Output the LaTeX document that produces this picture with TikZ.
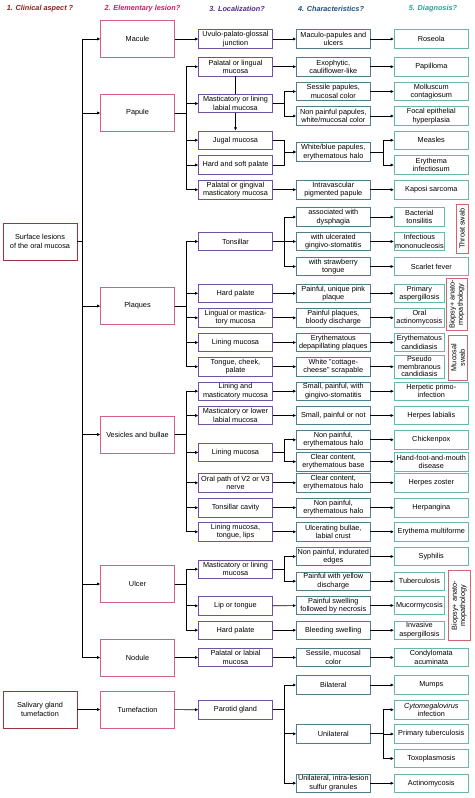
\documentclass[tikz,border=0pt]{standalone}
\usepackage{fontspec}
\setmainfont{Liberation Sans}
\usetikzlibrary{arrows.meta,shadows}
\definecolor{cone}{RGB}{160,50,60}
\definecolor{ctwo}{RGB}{214,96,130}
\definecolor{cthree}{RGB}{112,80,160}
\definecolor{cfour}{RGB}{80,125,140}
\definecolor{cfive}{RGB}{100,185,170}
\definecolor{cside}{RGB}{210,100,115}
\definecolor{hone}{RGB}{150,25,30}
\definecolor{htwo}{RGB}{200,30,100}
\definecolor{hthree}{RGB}{80,40,140}
\definecolor{hfour}{RGB}{30,80,130}
\definecolor{hfive}{RGB}{40,160,150}
\tikzset{
 boxbase/.style={draw, fill=white, line width=0.8pt, align=center, inner sep=0pt,
   font=\fontsize{7.3}{8.3}\selectfont,
   drop shadow={shadow xshift=0.7pt, shadow yshift=-0.7pt, opacity=0.3, fill=black}},
 colone/.style={boxbase, draw=cone, minimum width=74pt, minimum height=37pt},
 coltwo/.style={boxbase, draw=ctwo, minimum width=73.6pt, minimum height=37pt},
 colthree/.style={boxbase, draw=cthree, minimum width=73.6pt, minimum height=18.5pt},
 colfour/.style={boxbase, draw=cfour, minimum width=73.3pt, minimum height=18.5pt},
 colfive/.style={boxbase, draw=cfive, minimum width=74pt, minimum height=18.5pt},
 colfiven/.style={boxbase, draw=cfive, minimum width=50.2pt, minimum height=18.5pt},
 sidebox/.style={boxbase, draw=cside, rotate=90},
 hdr/.style={font=\fontsize{7.3}{8.3}\selectfont\bfseries\itshape, inner sep=0pt},
 arr/.style={line width=0.7pt, -{Latex[length=3.2pt,width=3.2pt]}},
 ln/.style={line width=0.7pt}
}
\begin{document}
\begin{tikzpicture}[x=1pt,y=-1pt]
\useasboundingbox (0,0) rectangle (474,798);
% headers
\node[hdr, text=hone] (h1) at (40,9) {1. Clinical aspect ?};
\node[hdr, text=htwo] (h2) at (142.5,9) {2. Elementary lesion?};
\node[hdr, text=hthree] (h3) at (237,9) {3. Localization?};
\node[hdr, text=hfour] (h4) at (331,9) {4. Characteristics?};
\node[hdr, text=hfive] (h5) at (433,9) {5. Diagnosis?};
% column 1
\node[colone] (surf) at (40,241.5) {Surface lesions\\of the oral mucosa};
\node[colone] (sal) at (40,709.5) {Salivary gland\\tumefaction};
% column 2
\node[coltwo] (mac) at (137.5,39) {Macule};
\node[coltwo] (pap) at (137.5,113) {Papule};
\node[coltwo] (pla) at (137.5,306) {Plaques};
\node[coltwo] (ves) at (137.5,434.5) {Vesicles and bullae};
\node[coltwo] (ulc) at (137.5,584) {Ulcer};
\node[coltwo] (nod) at (137.5,657.5) {Nodule};
\node[coltwo] (tum) at (137.5,709.5) {Tumefaction};
% column 3
\def\xc{235.5}
\node[colthree] (u1) at (\xc,39) {Uvulo-palato-glossal\\junction};
\node[colthree] (p1) at (\xc,66.7) {Palatal or lingual\\mucosa};
\node[colthree] (p2) at (\xc,103.5) {Masticatory or lining\\labial mucosa};
\node[colthree] (p3) at (\xc,140.2) {Jugal mucosa};
\node[colthree] (p4) at (\xc,165) {Hard and soft palate};
\node[colthree] (p5) at (\xc,189.7) {Palatal or gingival\\masticatory mucosa};
\node[colthree] (q1) at (\xc,241.5) {Tonsillar};
\node[colthree] (q2) at (\xc,293.3) {Hard palate};
\node[colthree] (q3) at (\xc,317.8) {Lingual or mastica-\\tory mucosa};
\node[colthree] (q4) at (\xc,342.5) {Lining mucosa};
\node[colthree] (q5) at (\xc,366.7) {Tongue, cheek,\\palate};
\node[colthree] (v1) at (\xc,391.2) {Lining and\\masticatory mucosa};
\node[colthree] (v2) at (\xc,415.5) {Masticatory or lower\\labial mucosa};
\node[colthree] (v3) at (\xc,452.5) {Lining mucosa};
\node[colthree] (v4) at (\xc,482.8) {Oral path of V2 or V3\\nerve};
\node[colthree] (v5) at (\xc,507.7) {Tonsillar cavity};
\node[colthree] (v6) at (\xc,531.8) {Lining mucosa,\\tongue, lips};
\node[colthree] (w1) at (\xc,569.2) {Masticatory or lining\\mucosa};
\node[colthree] (w2) at (\xc,605.8) {Lip or tongue};
\node[colthree] (w3) at (\xc,630.2) {Hard palate};
\node[colthree] (n1) at (\xc,657.5) {Palatal or labial\\mucosa};
\node[colthree] (t1) at (\xc,709.8) {Parotid gland};
% column 4
\def\xd{333.3}
\node[colfour] (a1) at (\xd,39) {Maculo-papules and\\ulcers};
\node[colfour] (a2) at (\xd,66.7) {Exophytic,\\cauliflower-like};
\node[colfour] (a3) at (\xd,91.5) {Sessile papules,\\mucosal color};
\node[colfour] (a4) at (\xd,116) {Non painful papules,\\white/mucosal color};
\node[colfour] (a5) at (\xd,152) {White/blue papules,\\erythematous halo};
\node[colfour] (a6) at (\xd,189.7) {Intravascular\\pigmented papule};
\node[colfour] (b1) at (\xd,217) {associated with\\dysphagia};
\node[colfour] (b2) at (\xd,241.5) {with ulcerated\\gingivo-stomatitis};
\node[colfour] (b3) at (\xd,266.5) {with strawberry\\tongue};
\node[colfour] (b4) at (\xd,293.3) {Painful, unique pink\\plaque};
\node[colfour] (b5) at (\xd,317.8) {Painful plaques,\\bloody discharge};
\node[colfour] (b6) at (\xd,342.5) {Erythematous\\depapillating plaques};
\node[colfour] (b7) at (\xd,366.7) {White "cottage-\\cheese" scrapable};
\node[colfour] (c1) at (\xd,391.2) {Small, painful, with\\gingivo-stomatitis};
\node[colfour] (c2) at (\xd,415.5) {Small, painful or not};
\node[colfour] (c3) at (\xd,439.8) {Non painful,\\erythematous halo};
\node[colfour] (c4) at (\xd,461.7) {Clear content,\\erythematous base};
\node[colfour] (c5) at (\xd,482.8) {Clear content,\\erythematous halo};
\node[colfour] (c6) at (\xd,507.7) {Non painful,\\erythematous halo};
\node[colfour] (c7) at (\xd,531.8) {Ulcerating bullae,\\labial crust};
\node[colfour] (d1) at (\xd,556.5) {Non painful, indurated\\edges};
\node[colfour] (d2) at (\xd,581.2) {Painful with yellow\\discharge};
\node[colfour] (d3) at (\xd,605.5) {Painful swelling\\followed by necrosis};
\node[colfour] (d4) at (\xd,630.2) {Bleeding swelling};
\node[colfour] (d5) at (\xd,657.5) {Sessile, mucosal\\color};
\node[colfour] (e1) at (\xd,685) {Bilateral};
\node[colfour] (e2) at (\xd,733.8) {Unilateral};
\node[colfour] (e3) at (\xd,783.2) {Unilateral, intra-lesion\\sulfur granules};
% column 5
\def\xe{431.3}
\def\xn{419.4}
\node[colfive] (f1) at (\xe,39) {Roseola};
\node[colfive] (f2) at (\xe,66.7) {Papilloma};
\node[colfive] (f3) at (\xe,91.5) {Molluscum\\contagiosum};
\node[colfive] (f4) at (\xe,116) {Focal epithelial\\hyperplasia};
\node[colfive] (f5) at (\xe,140.2) {Measles};
\node[colfive] (f6) at (\xe,165) {Erythema\\infectiosum};
\node[colfive] (f7) at (\xe,189.7) {Kaposi sarcoma};
\node[colfiven] (g1) at (\xn,217) {Bacterial\\tonsilitis};
\node[colfiven] (g2) at (\xn,241.5) {Infectious\\mononucleosis};
\node[colfive] (g3) at (\xe,266.5) {Scarlet fever};
\node[colfiven] (g4) at (\xn,293.3) {Primary\\aspergillosis};
\node[colfiven] (g5) at (\xn,317.8) {Oral\\actinomycosis};
\node[colfiven] (g6) at (\xn,342.5) {Erythematous\\candidiasis};
\node[colfiven, minimum height=23pt, font=\fontsize{7.3}{7.6}\selectfont] (g7) at (\xn,366.7) {Pseudo\\membranous\\candidiasis};
\node[colfive] (k1) at (\xe,391.2) {Herpetic primo-\\infection};
\node[colfive] (k2) at (\xe,415.5) {Herpes labialis};
\node[colfive] (k3) at (\xe,439.8) {Chickenpox};
\node[colfive] (k4) at (\xe,461.7) {Hand-foot-and-mouth\\disease};
\node[colfive] (k5) at (\xe,482.8) {Herpes zoster};
\node[colfive] (k6) at (\xe,507.7) {Herpangina};
\node[colfive] (k7) at (\xe,531.8) {Erythema multiforme};
\node[colfive] (m1) at (\xe,556.5) {Syphilis};
\node[colfiven] (m2) at (\xn,581.2) {Tuberculosis};
\node[colfiven] (m3) at (\xn,605.5) {Mucormycosis};
\node[colfiven] (m4) at (\xn,630.2) {Invasive\\aspergillosis};
\node[colfive] (m5) at (\xe,657.5) {Condylomata\\acuminata};
\node[colfive] (s1) at (\xe,685) {Mumps};
\node[colfive] (s2) at (\xe,709.7) {\textit{Cytomegalovirus}\\infection};
\node[colfive] (s3) at (\xe,734) {Primary tuberculosis};
\node[colfive] (s4) at (\xe,758.5) {Toxoplasmosis};
\node[colfive] (s5) at (\xe,783.2) {Actinomycosis};
% side labels
\node[sidebox, minimum width=49pt, minimum height=12pt] (sw1) at (462,228.7) {Throat swab};
\node[sidebox, minimum width=52.7pt, minimum height=20.5pt] (bi1) at (456.8,304.3) {Biopsy+ anato-\\mopathology};
\node[sidebox, minimum width=45pt, minimum height=19.4pt] (sw2) at (458,357.5) {Mucosal\\swab};
\node[sidebox, minimum width=70pt, minimum height=21.7pt] (bi2) at (459.2,605.6) {Biopsy+ anato-\\mopathology};
% trunk col1 -> col2
\foreach \t in {mac,pap,pla,ves,ulc,nod}
  \draw[arr] (surf.east) -- ++(5,0) |- (\t.west);
\draw[arr] (sal) -- (tum);
% col2 -> col3
\draw[arr] (mac) -- (u1);
\foreach \t in {p1,p2,p3,p4,p5} \draw[arr] (pap.east) -- ++(11.7,0) |- (\t.west);
\foreach \t in {q1,q2,q3,q4,q5} \draw[arr] (pla.east) -- ++(11.7,0) |- (\t.west);
\foreach \t in {v1,v2,v3,v4,v5,v6} \draw[arr] (ves.east) -- ++(11.7,0) |- (\t.west);
\foreach \t in {w1,w2,w3} \draw[arr] (ulc.east) -- ++(11.7,0) |- (\t.west);
\draw[arr] (nod) -- (n1);
\draw[arr] (tum) -- (t1);
\draw[ln] (p1.south) -- (p2.north);
\draw[arr] (p2.south) -- (p3.north);
% col3 -> col4
\draw[arr] (u1) -- (a1);
\draw[arr] (p1) -- (a2);
\foreach \t in {a3,a4} \draw[arr] (p2.east) -- ++(11.7,0) |- (\t.west);
\draw[arr] (p3.east) -- ++(11.7,0) |- (a5.west);
\draw[arr] (p4.east) -- ++(11.7,0) |- (a5.west);
\draw[arr] (p5) -- (a6);
\foreach \t in {b1,b2,b3} \draw[arr] (q1.east) -- ++(11.7,0) |- (\t.west);
\draw[arr] (q2) -- (b4);
\draw[arr] (q3) -- (b5);
\draw[arr] (q4) -- (b6);
\draw[arr] (q5) -- (b7);
\draw[arr] (v1) -- (c1);
\draw[arr] (v2) -- (c2);
\foreach \t in {c3,c4} \draw[arr] (v3.east) -- ++(11.7,0) |- (\t.west);
\draw[arr] (v4) -- (c5);
\draw[arr] (v5) -- (c6);
\draw[arr] (v6) -- (c7);
\foreach \t in {d1,d2} \draw[arr] (w1.east) -- ++(11.7,0) |- (\t.west);
\draw[arr] (w2) -- (d3);
\draw[arr] (w3) -- (d4);
\draw[arr] (n1) -- (d5);
\foreach \t in {e1,e2,e3} \draw[arr] (t1.east) -- ++(11.7,0) |- (\t.west);
% col4 -> col5
\draw[arr] (a1) -- (f1);
\draw[arr] (a2) -- (f2);
\draw[arr] (a3) -- (f3);
\draw[arr] (a4) -- (f4);
\foreach \t in {f5,f6} \draw[arr] (a5.east) -- ++(12.7,0) |- (\t.west);
\draw[arr] (a6) -- (f7);
\draw[arr] (b1) -- (g1);
\draw[arr] (b2) -- (g2);
\draw[arr] (b3) -- (g3);
\draw[arr] (b4) -- (g4);
\draw[arr] (b5) -- (g5);
\draw[arr] (b6) -- (g6);
\draw[arr] (b7) -- (g7);
\draw[arr] (c1) -- (k1);
\draw[arr] (c2) -- (k2);
\draw[arr] (c3) -- (k3);
\draw[arr] (c4) -- (k4);
\draw[arr] (c5) -- (k5);
\draw[arr] (c6) -- (k6);
\draw[arr] (c7) -- (k7);
\draw[arr] (d1) -- (m1);
\draw[arr] (d2) -- (m2);
\draw[arr] (d3) -- (m3);
\draw[arr] (d4) -- (m4);
\draw[arr] (d5) -- (m5);
\draw[arr] (e1) -- (s1);
\foreach \t in {s2,s3,s4} \draw[arr] (e2.east) -- ++(12.7,0) |- (\t.west);
\draw[arr] (e3) -- (s5);
\end{tikzpicture}
\end{document}
